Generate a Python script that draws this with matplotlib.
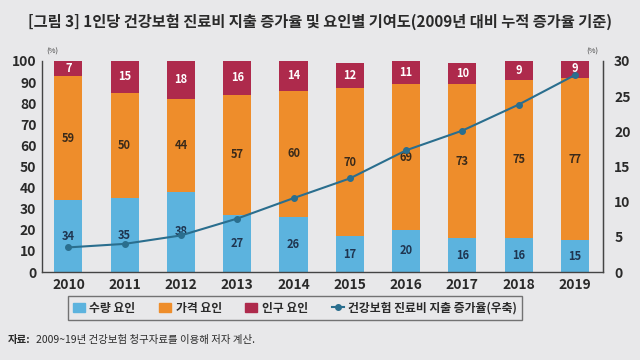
import matplotlib
matplotlib.use("Agg")
import matplotlib.pyplot as plt
from matplotlib.lines import Line2D
from matplotlib.patches import Patch
import numpy as np

plt.rcParams['font.family'] = ['Noto Sans CJK KR', 'DejaVu Sans']

years = ['2010', '2011', '2012', '2013', '2014', '2015', '2016', '2017', '2018', '2019']
volume = [34, 35, 38, 27, 26, 17, 20, 16, 16, 15]
price = [59, 50, 44, 57, 60, 70, 69, 73, 75, 77]
population = [7, 15, 18, 16, 14, 12, 11, 10, 9, 9]
growth = [3.5, 4.0, 5.2, 7.6, 10.5, 13.3, 17.3, 20.1, 23.8, 28.0]

series_names = ['수량 요인', '가격 요인', '인구 요인', '건강보험 진료비 지출 증가율(우축)']
title = '[그림 3] 1인당 건강보험 진료비 지출 증가율 및 요인별 기여도(2009년 대비 누적 증가율 기준)'
source = '2009~19년 건강보험 청구자료를 이용해 저자 계산.'

bg = '#e8e8ea'
c_blue = '#5cb3de'
c_orange = '#ee8d2b'
c_red = '#ae2a4c'
c_line = '#2a6e8e'
c_text = '#2a2a2a'

fig = plt.figure(figsize=(6.4, 3.6), dpi=100, facecolor=bg)
ax = fig.add_axes([0.0656, 0.2444, 0.8766, 0.5862])
ax.set_facecolor(bg)

x = np.arange(len(years))
w = 0.5
vol = np.array(volume)
pr = np.array(price)
po = np.array(population)
ax.bar(x, vol, w, color=c_blue, zorder=2)
ax.bar(x, pr, w, bottom=vol, color=c_orange, zorder=2)
ax.bar(x, po, w, bottom=vol + pr, color=c_red, zorder=2)

for i in range(len(x)):
    ax.text(x[i], vol[i] / 2, str(vol[i]), ha='center', va='center', fontsize=8,
            fontweight='bold', color='#1f3550', zorder=4)
    ax.text(x[i], vol[i] + pr[i] / 2, str(pr[i]), ha='center', va='center', fontsize=8,
            fontweight='bold', color='#3a2a1a', zorder=4)
    ax.text(x[i], vol[i] + pr[i] + po[i] / 2, str(po[i]), ha='center', va='center', fontsize=8,
            fontweight='bold', color='white', zorder=4)

ax.set_xlim(-0.47, 9.5)
ax.set_ylim(0, 100)
ax.set_yticks(np.arange(0, 101, 10))
ax.set_xticks(x)
ax.set_xticklabels(years)
ax.spines['top'].set_visible(False)
for s in ['left', 'bottom', 'right']:
    ax.spines[s].set_color('#444444')
    ax.spines[s].set_linewidth(1.0)
ax.tick_params(axis='both', length=0, labelsize=10, colors=c_text, pad=4)
for lab in ax.get_xticklabels() + ax.get_yticklabels():
    lab.set_fontweight('bold')

ax2 = ax.twinx()
ax2.set_ylim(0, 30)
ax2.set_yticks(np.arange(0, 31, 5))
ax2.plot(x, growth, color=c_line, lw=1.5, marker='o', markersize=4, zorder=5)
ax2.spines['top'].set_visible(False)
ax2.spines['right'].set_color('#444444')
ax2.spines['left'].set_visible(False)
ax2.spines['bottom'].set_visible(False)
ax2.tick_params(axis='y', length=0, labelsize=10, colors=c_text, pad=8)
for lab in ax2.get_yticklabels():
    lab.set_fontweight('bold')

fig.text(0.072, 0.845, '(%)', fontsize=5.5, color='#444444', ha='left', va='bottom')
fig.text(0.935, 0.845, '(%)', fontsize=5.5, color='#444444', ha='right', va='bottom')

fig.text(0.5, 0.94, title, ha='center', va='center', fontsize=11, fontweight='bold', color='#2a2a2a')

handles = [Patch(color=c_blue), Patch(color=c_orange), Patch(color=c_red),
           Line2D([0], [0], color=c_line, lw=1.5, marker='o', markersize=4)]
leg = fig.legend(handles, series_names, loc='center', bbox_to_anchor=(0.461, 0.144), ncol=4,
                 frameon=True, fontsize=8.5, handlelength=1.0, handleheight=0.8,
                 columnspacing=2.0, handletextpad=0.4, borderpad=0.45, fancybox=False)
leg.get_frame().set_facecolor(bg)
leg.get_frame().set_edgecolor('#555555')
leg.get_frame().set_linewidth(1.0)
for t in leg.get_texts():
    t.set_color(c_text)
    t.set_fontweight('bold')

fig.text(0.012, 0.055, '자료:', fontsize=7.5, fontweight='bold', color=c_text, ha='left', va='center')
fig.text(0.056, 0.055, source, fontsize=7.5, color=c_text, ha='left', va='center')

fig.savefig('out.png', dpi=100, facecolor=bg)
